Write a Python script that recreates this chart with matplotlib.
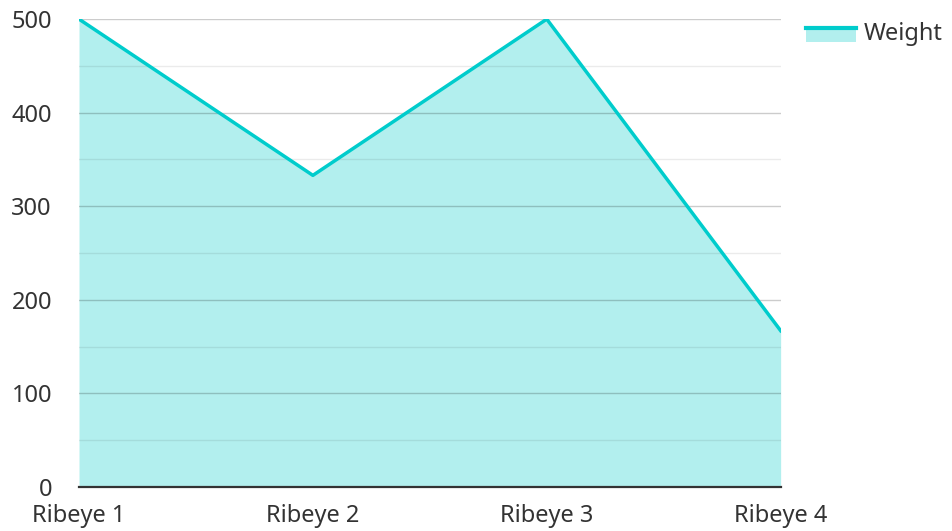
import matplotlib.pyplot as plt
from matplotlib.legend_handler import HandlerBase
from matplotlib.patches import Rectangle
from matplotlib.lines import Line2D

# data
cuts = ["Ribeye 1", "Ribeye 2", "Ribeye 3", "Ribeye 4"]
weight = [500, 333, 500, 167]

line_col = "#00cccc"
fill_col = "#b2efee"

plt.rcParams['font.family'] = ['Noto Sans', 'DejaVu Sans']


# legend key: thick line on top of a filled band
class AreaHandler(HandlerBase):
    def create_artists(self, legend, orig, xd, yd, w, h, fontsize, trans):
        r = Rectangle((xd, yd - 0.1 * h), w, h * 0.85, facecolor=fill_col,
                      edgecolor='none', transform=trans)
        l = Line2D([xd, xd + w], [yd + 0.72 * h, yd + 0.72 * h], color=line_col,
                   lw=3, transform=trans)
        return [r, l]


fig = plt.figure(figsize=(9.52, 5.31), dpi=100)
ax = fig.add_axes([0.083, 0.083, 0.737, 0.881])

x = list(range(len(cuts)))
ax.fill_between(x, weight, 0, color=fill_col, lw=0, zorder=1)
ln, = ax.plot(x, weight, color=line_col, lw=2.5, zorder=3, label="Weight")

ax.set_xlim(0, 3)
ax.set_ylim(0, 500)
ax.set_yticks(range(0, 501, 100))
ax.set_yticks(range(50, 500, 100), minor=True)
ax.set_xticks(x)
ax.set_xticklabels(cuts)

ax.grid(axis='y', which='major', color='black', alpha=0.2, lw=1, zorder=2)
ax.grid(axis='y', which='minor', color='black', alpha=0.08, lw=1, zorder=2)
ax.set_axisbelow(False)

for s in ['top', 'right', 'left']:
    ax.spines[s].set_visible(False)
ax.spines['bottom'].set_color('#333333')
ax.spines['bottom'].set_linewidth(1.6)
ax.spines['bottom'].set_zorder(4)

ax.tick_params(axis='both', which='both', length=0, labelsize=17, colors='#333333')
ax.tick_params(axis='y', pad=19.5)
ax.tick_params(axis='x', pad=12)

fig.legend([ln], ["Weight"], handler_map={ln: AreaHandler()}, loc='upper left',
           bbox_to_anchor=(0.832, 0.985), borderaxespad=0.2, frameon=False, fontsize=17,
           handlelength=2.1, handletextpad=0.34, labelcolor='#333333')

fig.savefig("out.png", dpi=100)
